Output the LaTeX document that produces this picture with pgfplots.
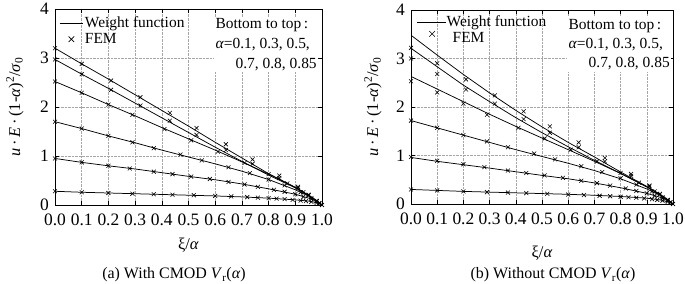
\documentclass[border=0pt]{standalone}
\usepackage{fontspec}
\setmainfont{Liberation Serif}
\usepackage{pgfplots}
\pgfplotsset{compat=1.18}
\begin{document}
\begin{tikzpicture}
\path[use as bounding box] (0bp,0bp) rectangle (685bp,284bp);
\pgfplotsset{
  myax/.style={
    scale only axis, xmin=0, xmax=1, ymin=0, ymax=4,
    xtick={0,0.1,0.2,0.3,0.4,0.5,0.6,0.7,0.8,0.9,1.0},
    ytick={0,1,2,3,4},
    xticklabel style={/pgf/number format/fixed,/pgf/number format/precision=1,/pgf/number format/fixed zerofill, yshift=-7.5bp, inner sep=1bp},
    yticklabel style={xshift=-5bp, inner sep=1bp},
    /pgf/number format/assume math mode=true,
    tick label style={font=\fontsize{17.5}{19}\selectfont},
    label style={font=\fontsize{16.5}{19}\selectfont},
    tick align=inside, major tick length=4bp,
    xtick pos=both, ytick pos=both,
    grid=major, grid style={densely dotted, gray!70, line width=0.5pt},
    axis line style={black, line width=0.8pt},
    tick style={black, line width=0.6pt},
    ylabel={\textit{u}\,·\,\textit{E}\,·\,(1-\textit{α})\textsuperscript{2}/\textit{σ}\textsubscript{0}},
    xlabel={ξ/\textit{α}},
    legend style={draw=none, fill=none, font=\fontsize{15.5}{18}\selectfont, inner sep=0pt, row sep=0pt},
    legend cell align=left,
  },
  wf/.style={black, line width=0.75pt, no marks},
  fem/.style={black, only marks, mark=x, mark size=2.8bp, mark options={line width=0.6pt}},
}
% ---------------- (a) ----------------
\begin{axis}[myax, at={(55bp,79bp)}, anchor=south west, width=267bp, height=196bp,
  ylabel style={at={(axis description cs:-0.15,0.5)}, anchor=center},
  xlabel style={at={(axis description cs:0.5,-0.204)}, anchor=center},
  legend style={at={(axis description cs:0.015,0.97)}, anchor=north west}]
\addlegendimage{legend image code/.code={\draw[black, line width=0.75pt] (0bp,0bp) -- (23bp,0bp);}}
\addlegendentry{Weight function}
\addlegendimage{legend image code/.code={\draw[black, line width=0.6pt] (9bp,-2.8bp) -- (14.6bp,2.8bp) (9bp,2.8bp) -- (14.6bp,-2.8bp);}}
\addlegendentry{FEM}
% weight function lines
\addplot[wf, forget plot] coordinates {(0,0.28) (0.1,0.26) (0.2,0.245) (0.3,0.23) (0.4,0.215) (0.5,0.2) (0.6,0.185) (0.7,0.165) (0.8,0.14) (0.9,0.105) (0.95,0.08) (0.98,0.05) (1,0)};
\addplot[wf, forget plot] coordinates {(0,0.95) (0.1,0.87) (0.2,0.80) (0.3,0.735) (0.4,0.66) (0.5,0.585) (0.6,0.515) (0.7,0.43) (0.8,0.33) (0.9,0.22) (0.95,0.14) (0.98,0.08) (1,0)};
\addplot[wf, forget plot] coordinates {(0,1.70) (0.1,1.56) (0.2,1.41) (0.3,1.27) (0.4,1.12) (0.5,0.98) (0.6,0.84) (0.7,0.69) (0.8,0.52) (0.9,0.31) (0.95,0.18) (0.98,0.08) (1,0)};
\addplot[wf, forget plot] coordinates {(0,2.52) (0.1,2.29) (0.2,2.05) (0.3,1.82) (0.4,1.58) (0.5,1.35) (0.6,1.12) (0.7,0.88) (0.8,0.63) (0.9,0.36) (0.95,0.2) (0.98,0.09) (1,0)};
\addplot[wf, forget plot] coordinates {(0,2.97) (0.1,2.67) (0.2,2.38) (0.3,2.08) (0.4,1.78) (0.5,1.48) (0.6,1.18) (0.7,0.89) (0.8,0.61) (0.9,0.35) (0.95,0.19) (0.98,0.08) (1,0)};
\addplot[wf, forget plot] coordinates {(0,3.20) (0.1,2.88) (0.2,2.57) (0.3,2.25) (0.4,1.93) (0.5,1.61) (0.6,1.28) (0.7,0.96) (0.8,0.64) (0.9,0.36) (0.95,0.2) (0.98,0.09) (1,0)};
% FEM
\addplot[fem, forget plot] coordinates {(0,0.28) (0.10,0.26) (0.20,0.245) (0.29,0.23) (0.37,0.22) (0.44,0.21) (0.52,0.20) (0.60,0.185) (0.66,0.175) (0.72,0.16) (0.76,0.15) (0.80,0.14) (0.83,0.13) (0.86,0.12) (0.89,0.105) (0.92,0.09) (0.94,0.08) (0.96,0.065) (0.98,0.045) (0.99,0.03) (1.0,0.0)};
\addplot[fem, forget plot] coordinates {(0,0.95) (0.10,0.87) (0.20,0.80) (0.28,0.745) (0.37,0.68) (0.44,0.63) (0.51,0.58) (0.58,0.53) (0.65,0.47) (0.71,0.42) (0.76,0.37) (0.82,0.31) (0.86,0.27) (0.90,0.22) (0.93,0.17) (0.96,0.12) (0.98,0.08) (1.0,0.0)};
\addplot[fem, forget plot] coordinates {(0,1.70) (0.10,1.56) (0.20,1.41) (0.29,1.28) (0.37,1.16) (0.47,1.03) (0.55,0.91) (0.65,0.77) (0.73,0.65) (0.80,0.52) (0.86,0.40) (0.92,0.26) (0.96,0.14) (0.99,0.04)};
\addplot[fem, forget plot] coordinates {(0,2.52) (0.10,2.29) (0.20,2.05) (0.29,1.84) (0.41,1.55) (0.51,1.32) (0.61,1.09) (0.71,0.86) (0.80,0.63) (0.87,0.44) (0.93,0.26) (0.98,0.08)};
\addplot[fem, forget plot] coordinates {(0,2.97) (0.10,2.67) (0.21,2.35) (0.32,2.03) (0.43,1.72) (0.53,1.43) (0.64,1.12) (0.74,0.84) (0.84,0.55) (0.91,0.34) (0.95,0.2) (0.98,0.08)};
\addplot[fem, forget plot] coordinates {(0,3.20) (0.10,2.88) (0.21,2.54) (0.32,2.20) (0.43,1.88) (0.53,1.57) (0.64,1.24) (0.74,0.93) (0.84,0.60) (0.91,0.37) (0.95,0.21) (0.98,0.08)};
\node[anchor=north west, fill=white, inner sep=1.5bp, align=left, font=\fontsize{15.5}{20}\selectfont] at (axis cs:0.595,3.85)
  {Bottom to top\,:\\\textit{α}=0.1, 0.3, 0.5,\\\hspace*{1.3em}0.7, 0.8, 0.85};
\end{axis}
% ---------------- (b) ----------------
\begin{axis}[myax, at={(411bp,80bp)}, anchor=south west, width=262bp, height=194bp,
  ylabel style={at={(axis description cs:-0.145,0.5)}, anchor=center},
  xlabel style={at={(axis description cs:0.5,-0.253)}, anchor=center},
  legend style={at={(axis description cs:0.022,0.98)}, anchor=north west}]
\addlegendimage{legend image code/.code={\draw[black, line width=0.75pt] (0bp,0bp) -- (29bp,0bp);}}
\addlegendentry{\hspace*{-2bp}Weight function}
\addlegendimage{legend image code/.code={\draw[black, line width=0.6pt] (12bp,1.5bp) -- (17.6bp,7.1bp) (12bp,7.1bp) -- (17.6bp,1.5bp);}}
\addlegendentry{\hspace*{4bp}FEM}
\addplot[wf, forget plot] coordinates {(0,0.30) (0.1,0.28) (0.2,0.26) (0.3,0.245) (0.4,0.23) (0.5,0.215) (0.6,0.2) (0.7,0.18) (0.8,0.155) (0.9,0.12) (0.95,0.085) (0.98,0.05) (1,0)};
\addplot[wf, forget plot] coordinates {(0,0.96) (0.1,0.88) (0.2,0.81) (0.3,0.74) (0.4,0.665) (0.5,0.59) (0.6,0.52) (0.7,0.435) (0.8,0.335) (0.9,0.22) (0.95,0.14) (0.98,0.08) (1,0)};
\addplot[wf, forget plot] coordinates {(0,1.72) (0.1,1.57) (0.2,1.42) (0.3,1.27) (0.4,1.12) (0.5,0.98) (0.6,0.84) (0.7,0.69) (0.8,0.52) (0.9,0.31) (0.95,0.18) (0.98,0.08) (1,0)};
\addplot[wf, forget plot] coordinates {(0,2.63) (0.1,2.37) (0.2,2.11) (0.3,1.85) (0.4,1.60) (0.5,1.36) (0.6,1.12) (0.7,0.88) (0.8,0.63) (0.9,0.36) (0.95,0.2) (0.98,0.09) (1,0)};
\addplot[wf, forget plot] coordinates {(0,3.21) (0.1,2.83) (0.2,2.45) (0.3,2.11) (0.4,1.78) (0.5,1.47) (0.6,1.18) (0.7,0.90) (0.8,0.63) (0.9,0.35) (0.95,0.19) (0.98,0.08) (1,0)};
\addplot[wf, forget plot] coordinates {(0,3.48) (0.1,3.07) (0.2,2.67) (0.3,2.29) (0.4,1.93) (0.5,1.59) (0.6,1.27) (0.7,0.97) (0.8,0.66) (0.9,0.36) (0.95,0.2) (0.98,0.09) (1,0)};
\addplot[fem, forget plot] coordinates {(0,0.30) (0.10,0.28) (0.20,0.26) (0.29,0.245) (0.37,0.235) (0.44,0.225) (0.52,0.21) (0.60,0.195) (0.66,0.185) (0.72,0.17) (0.76,0.16) (0.80,0.15) (0.83,0.14) (0.86,0.13) (0.89,0.115) (0.92,0.1) (0.94,0.085) (0.96,0.07) (0.98,0.05) (0.99,0.03) (1.0,0.0)};
\addplot[fem, forget plot] coordinates {(0,0.97) (0.10,0.89) (0.20,0.82) (0.28,0.76) (0.37,0.69) (0.44,0.64) (0.51,0.59) (0.58,0.54) (0.65,0.48) (0.71,0.43) (0.76,0.38) (0.82,0.32) (0.86,0.27) (0.90,0.22) (0.93,0.17) (0.96,0.12) (0.98,0.08) (1.0,0.0)};
\addplot[fem, forget plot] coordinates {(0,1.72) (0.10,1.57) (0.20,1.42) (0.29,1.29) (0.37,1.17) (0.47,1.04) (0.55,0.92) (0.65,0.78) (0.73,0.66) (0.80,0.53) (0.86,0.40) (0.92,0.26) (0.96,0.14) (0.99,0.04)};
\addplot[fem, forget plot] coordinates {(0,2.53) (0.10,2.30) (0.20,2.07) (0.29,1.84) (0.41,1.57) (0.51,1.35) (0.61,1.12) (0.71,0.88) (0.80,0.64) (0.87,0.44) (0.93,0.26) (0.98,0.08)};
\addplot[fem, forget plot] coordinates {(0,3.00) (0.10,2.68) (0.21,2.36) (0.32,2.07) (0.43,1.75) (0.53,1.47) (0.64,1.17) (0.74,0.88) (0.84,0.58) (0.91,0.36) (0.95,0.2) (0.98,0.08)};
\addplot[fem, forget plot] coordinates {(0,3.22) (0.10,2.90) (0.21,2.57) (0.32,2.24) (0.43,1.91) (0.53,1.60) (0.64,1.27) (0.74,0.95) (0.84,0.62) (0.91,0.38) (0.95,0.21) (0.98,0.08)};
\node[anchor=north west, fill=white, inner sep=1.5bp, align=left, font=\fontsize{15.5}{19.5}\selectfont] at (axis cs:0.595,3.85)
  {Bottom to top\,:\\\textit{α}=0.1, 0.3, 0.5,\\\hspace*{1.3em}0.7, 0.8, 0.85};
\end{axis}
\node[font=\fontsize{16}{18}\selectfont] at (174bp,9bp) {(a) With CMOD \textit{V}\textsubscript{r}(\textit{α})};
\node[font=\fontsize{16}{18}\selectfont] at (553bp,9bp) {(b) Without CMOD \textit{V}\textsubscript{r}(\textit{α})};
\end{tikzpicture}
\end{document}
